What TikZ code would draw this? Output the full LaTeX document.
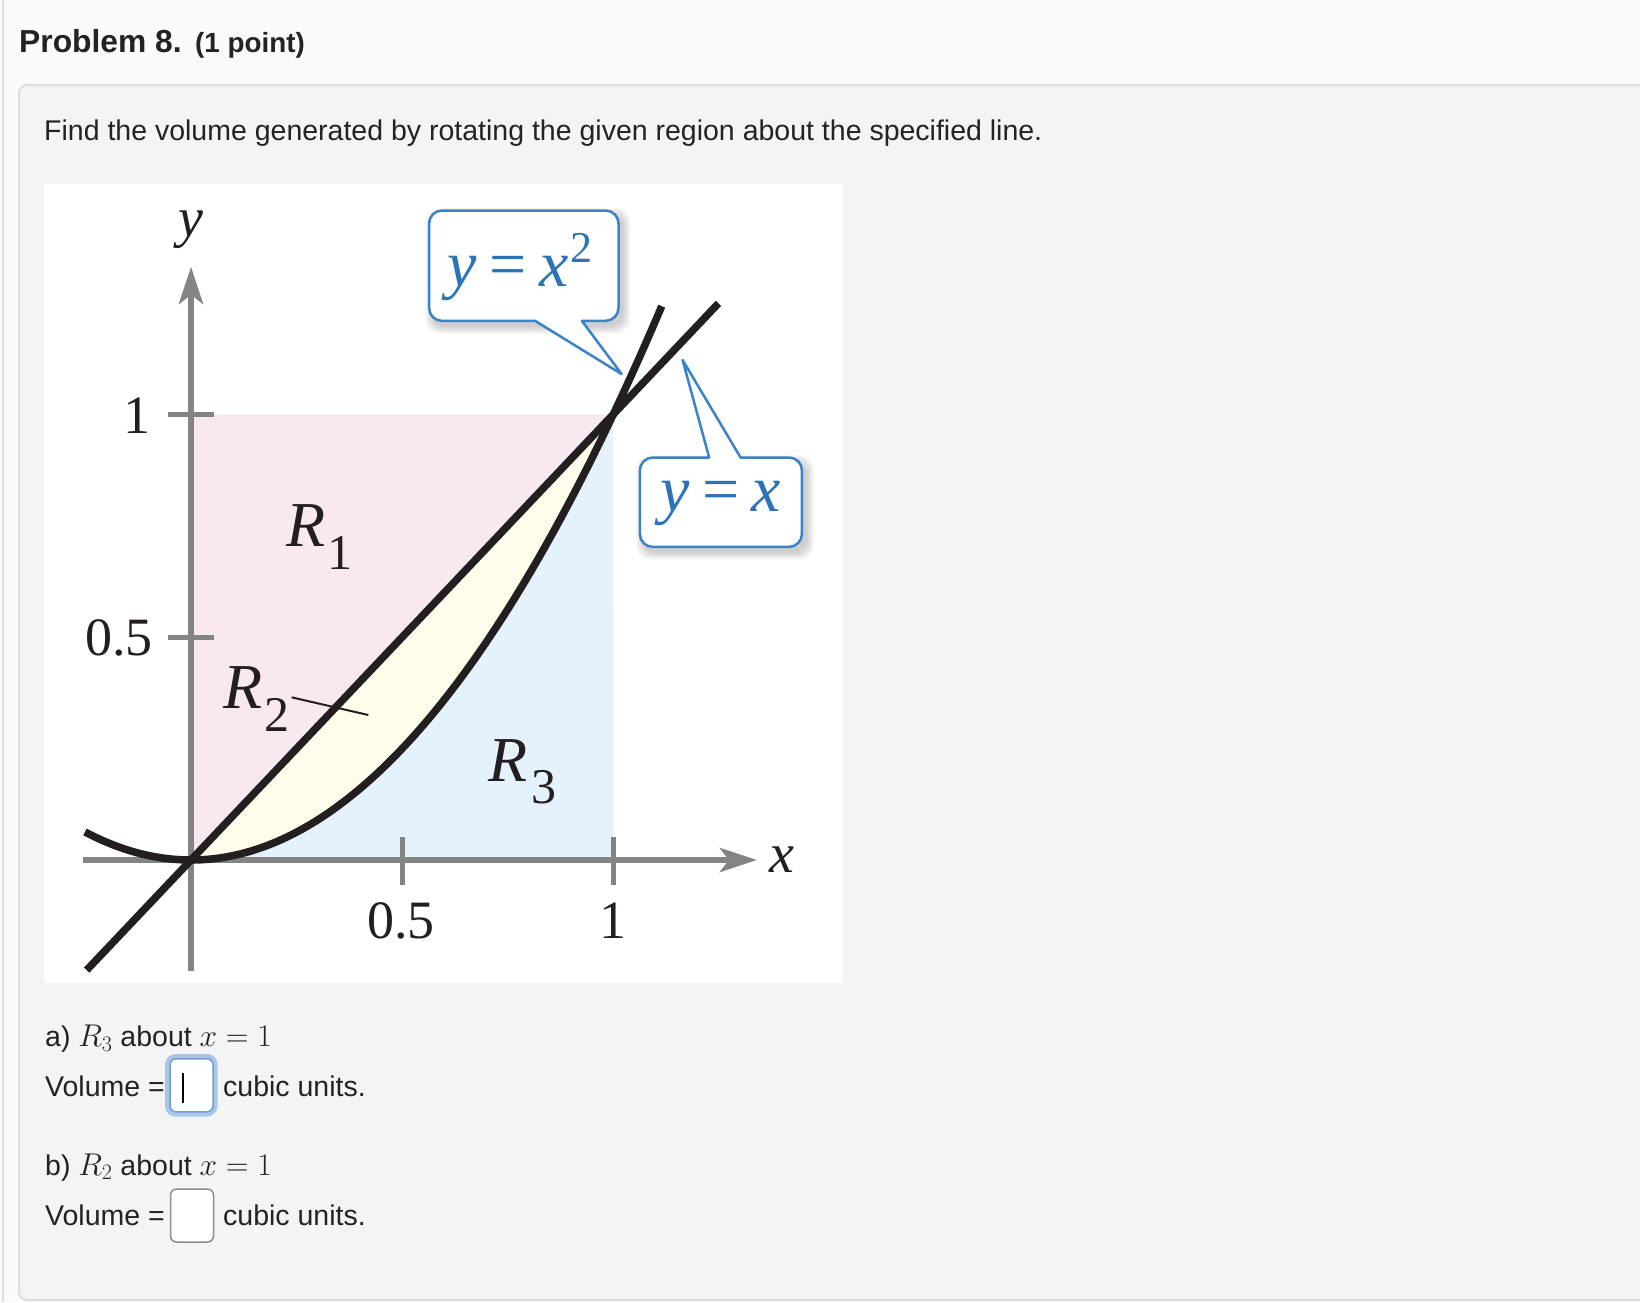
\RequirePackage{fix-cm}
\documentclass[tikz,border=0pt]{standalone}
\usepackage{fontspec}
\usepackage{tikz}
\usetikzlibrary{positioning,calc,arrows.meta}
\newfontfamily\uifont{Liberation Sans}
\newfontfamily\grfont{Liberation Serif}
\definecolor{pagebg}{HTML}{FAFAFA}
\definecolor{panelbg}{HTML}{F4F4F4}
\definecolor{panelrule}{HTML}{DDDDDD}
\definecolor{uiink}{HTML}{212326}
\definecolor{axisgray}{HTML}{848484}
\definecolor{curveblack}{HTML}{231F20}
\definecolor{rone}{HTML}{F8E8F0}
\definecolor{rtwo}{HTML}{FEFDEB}
\definecolor{rthree}{HTML}{E4F2FB}
\definecolor{callblue}{HTML}{3B82C6}
\definecolor{calltextblue}{HTML}{2C73B8}
\definecolor{focusglow}{HTML}{A9C6E6}
\definecolor{focusline}{HTML}{6E9ED3}
\definecolor{boxgray}{HTML}{8C8C8C}

\begin{document}
\begin{tikzpicture}[x=1pt, y=-1pt,
    uitext/.style={font=\uifont\fontsize{28.5}{34}\selectfont, text=uiink, inner sep=0pt, anchor=base west},
    axisline/.style={draw=axisgray, line width=6pt},
    tickline/.style={draw=axisgray, line width=5pt},
    curveline/.style={draw=curveblack, line width=7.5pt},
    leaderline/.style={draw=curveblack, line width=2pt},
    numlab/.style={font=\grfont\fontsize{54}{60}\selectfont, text=curveblack, inner sep=0pt},
    varlab/.style={font=\grfont\itshape\fontsize{56}{60}\selectfont, text=curveblack, inner sep=0pt},
    rlab/.style={font=\grfont\itshape\fontsize{64}{70}\selectfont, text=curveblack, inner sep=0pt, anchor=base west},
    callbox/.style={inner sep=0pt},
    callshape/.style={draw=callblue, fill=white, line width=2.5pt, line join=round},
    calltext/.style={font=\grfont\itshape\fontsize{66}{70}\selectfont, text=calltextblue, inner sep=0pt, anchor=base},
    ansbox/.style={draw=boxgray, fill=white, line width=1.5pt, rounded corners=6pt, inner sep=0pt, minimum width=43pt, minimum height=53pt}]

    \useasboundingbox (0,0) rectangle (1640,1302);
    \fill[pagebg] (0,0) rectangle (1640,1302);
    \draw[panelrule, line width=2pt] (3,0) -- (3,1302);
    \draw[panelrule, fill=panelbg, line width=2pt, rounded corners=8pt] (19,85) rectangle (1670,1300);

    % header and question
    \node[uitext, font=\uifont\bfseries\fontsize{31.8}{36}\selectfont] (ptitle) at (19,52) {Problem 8.};
    \node[uitext, font=\uifont\bfseries\fontsize{27.8}{32}\selectfont, base right=13pt of ptitle] (ppoint) {(1 point)};
    \node[uitext] (ask) at (44,140) {Find the volume generated by rotating the given region about the specified line.};

    % the figure
    \fill[white] (44,184) rectangle (843,983);
    \begin{scope}[shift={(191pt,-860pt)}, x=422.3pt, y=445.7pt]
      \fill[rone] (0,0) -- (1,1) -- (0,1) -- cycle;
      \fill[rthree] (0,0) -- plot[domain=0:1, samples=40] (\x,\x*\x) -- (1,0) -- cycle;
      \fill[rtwo] plot[domain=0:1, samples=40] (\x,\x*\x) -- cycle;

      \draw[axisline, -{Stealth[length=37pt, width=24pt, inset=9pt]}] (-0.255,0) -- (1.34,0);
      \draw[axisline, -{Stealth[length=37pt, width=24pt, inset=9pt]}] (0,-0.25) -- (0,1.331);
      \foreach \t in {0.5,1} {
        \draw[tickline] (\t,-0.056) -- (\t,0.052);
        \draw[tickline] (-0.054,\t) -- (0.054,\t);
      }
      \node[numlab, anchor=base] (xhalf) at (0.497,-0.175) {0.5};
      \node[numlab, anchor=base] (xone) at (1,-0.175) {1};
      \node[numlab, anchor=base east] (yhalf) at (-0.09,0.458) {0.5};
      \node[numlab, anchor=base east] (yone) at (-0.095,0.957) {1};
      \node[varlab] (xname) at (1.40,0) {x};
      \node[varlab, anchor=base] (yname) at (0,1.398) {y};

      \draw[curveline] (-0.247,-0.247) -- (1.249,1.249);
      \draw[curveline] plot[domain=-0.251:1.115, samples=60, smooth] (\x,\x*\x);

      \node[rlab] (rA) at (0.2245,0.7045) {R\kern2pt\raisebox{-23pt}{\upshape\fontsize{50}{50}\selectfont 1}};
      \node[rlab] (rB) at (0.0758,0.341) {R\kern2pt\raisebox{-23pt}{\upshape\fontsize{50}{50}\selectfont 2}};
      \node[rlab] (rC) at (0.705,0.176) {R\kern3pt\raisebox{-22pt}{\upshape\fontsize{50}{50}\selectfont 3}};
      \coordinate (rBfoot) at (0.2385,0.365);
      \coordinate (rBtip) at (0.4199,0.3253);
      \draw[leaderline] (rBfoot) -- (rBtip);

      \coordinate (sqtip) at (1.02,1.09);
      \coordinate (lintip) at (1.164,1.122);
    \end{scope}

    % callouts
    \node[callbox, minimum width=189pt, minimum height=110pt] (sqbox) at (523.8,265.7) {};
    \node[callbox, minimum width=161.7pt, minimum height=89pt] (linbox) at (720.9,502.2) {};
    \foreach \s in {0,...,7} {
      \fill[black, opacity=0.022, rounded corners=14pt] ($(sqbox.north west)+(3-\s,4-\s)$) rectangle ($(sqbox.south east)+(5+\s,6+\s)$);
      \fill[black, opacity=0.022, rounded corners=14pt] ($(linbox.north west)+(3-\s,4-\s)$) rectangle ($(linbox.south east)+(5+\s,6+\s)$);
    }
    \path[callshape] (sqbox.west) [rounded corners=13pt] -- (sqbox.north west) -- (sqbox.north east)
      -- (sqbox.south east) [sharp corners] -- ($(sqbox.south east)+(-36.6,0)$) -- (sqtip)
      -- ($(sqbox.south east)+(-83.3,0)$) [rounded corners=13pt] -- (sqbox.south west) -- cycle;
    \path[callshape] (linbox.west) [rounded corners=13pt] -- (linbox.north west)
      [sharp corners] -- ($(linbox.north west)+(69.3,0)$) -- (lintip)
      -- ($(linbox.north west)+(100.7,0)$) [rounded corners=13pt] -- (linbox.north east)
      -- (linbox.south east) -- (linbox.south west) -- cycle;
    \node[calltext] (sqlab) at (520,286) {y\kern13pt{\upshape=}\kern12pt x\kern2pt\raisebox{24pt}{\upshape\fontsize{44}{44}\selectfont 2}};
    \node[calltext] (linlab) at (720.8,511.7) {y\kern13pt{\upshape=}\kern12pt x};

    % the two parts
    \node[uitext] (parta) at (45,1046.7) {a) {\fontsize{31.5}{36}\selectfont$R_3$} about {\fontsize{31.5}{36}\selectfont$x=1$}};
    \node[uitext] (vola) at (45,1096) {Volume =};
    \draw[focusglow, line width=5pt, rounded corners=8pt] (167.5,1056.5) rectangle (215,1114);
    \node[ansbox, draw=focusline] (ansa) at (191.5,1085.3) {};
    \draw[black, line width=2pt] (183.3,1073) -- (183.3,1103);
    \node[uitext] (cubica) at (223,1096) {cubic units.};

    \node[uitext] (partb) at (45,1175) {b) {\fontsize{31.5}{36}\selectfont$R_2$} about {\fontsize{31.5}{36}\selectfont$x=1$}};
    \node[uitext] (volb) at (45,1225) {Volume =};
    \node[ansbox] (ansb) at (192,1215.5) {};
    \node[uitext] (cubicb) at (223,1225) {cubic units.};
\end{tikzpicture}
\end{document}
